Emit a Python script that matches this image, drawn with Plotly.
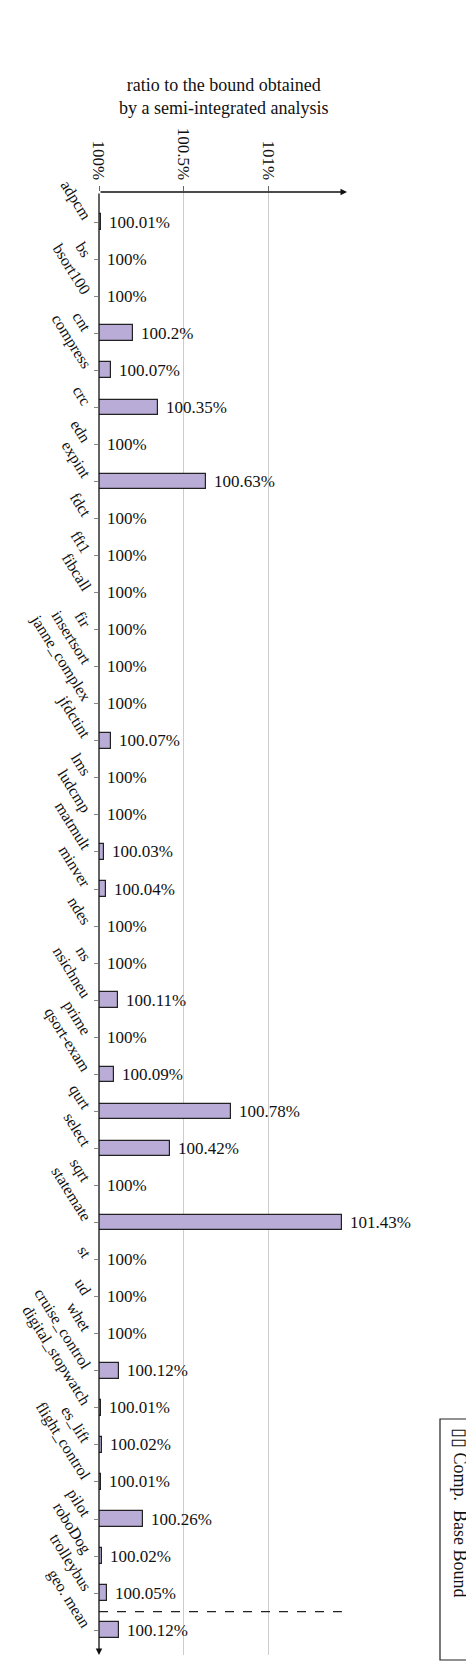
import plotly.graph_objects as go

benchmarks = ["adpcm", "bs", "bsort100", "cnt", "compress", "crc", "edn", "expint", "fdct", "fft1",
              "fibcall", "fir", "insertsort", "janne_complex", "jfdctint", "lms", "ludcmp", "matmult",
              "minver", "ndes", "ns", "nsichneu", "prime", "qsort-exam", "qurt", "select", "sqrt",
              "statemate", "st", "ud", "whet", "cruise_control", "digital_stopwatch", "es_lift",
              "flight_control", "pilot", "roboDog", "trolleybus", "geo. mean"]
ratio = [100.01, 100, 100, 100.2, 100.07, 100.35, 100, 100.63, 100, 100,
         100, 100, 100, 100, 100.07, 100, 100, 100.03,
         100.04, 100, 100, 100.11, 100, 100.09, 100.78, 100.42, 100,
         101.43, 100, 100, 100, 100.12, 100.01, 100.02,
         100.01, 100.26, 100.02, 100.05, 100.12]
tick_vals = [100, 100.5, 101]
tick_text = ["100%", "100.5%", "101%"]

FONT = "Liberation Serif"
pos = list(range(len(benchmarks)))

fig = go.Figure()
fig.add_trace(go.Bar(
    x=[v - 100 for v in ratio], base=100, y=pos, orientation="h", width=0.42,
    marker=dict(color="#b9acd6", line=dict(color="#222", width=1.2)),
    showlegend=False,
))

# value labels and slanted category labels
for i, (name, v) in enumerate(zip(benchmarks, ratio)):
    fig.add_annotation(x=v, y=i, xref="x", yref="y", text=f"{v:g}%", showarrow=False,
                       xanchor="left", xshift=6,
                       font=dict(family=FONT, size=17, color="#111"))
    fig.add_annotation(x=100, y=i, xref="x", yref="y", text=name, showarrow=False,
                       textangle=58, xanchor="right", yanchor="bottom", xshift=-2, yshift=-4,
                       font=dict(family=FONT, size=16, color="#111"))

# separator before geo. mean
fig.add_shape(type="line", x0=100, x1=101.43, y0=len(benchmarks) - 1.5, y1=len(benchmarks) - 1.5,
              xref="x", yref="y", line=dict(color="#222", width=1.2, dash="dash"))

# axis arrows
fig.add_annotation(x=101.46, y=-0.81, ax=100, ay=-0.81, xref="x", yref="y", axref="x", ayref="y",
                   text="", showarrow=True, arrowhead=2, arrowsize=1, arrowwidth=1.3, arrowcolor="#111")
fig.add_annotation(x=100, y=38.67, ax=100, ay=-0.81, xref="x", yref="y", axref="x", ayref="y",
                   text="", showarrow=True, arrowhead=2, arrowsize=1, arrowwidth=1.3, arrowcolor="#111")

# title
fig.add_annotation(xref="paper", yref="paper", x=(215 - 91) / 248, y=1 + (184 - 65) / 1463,
                   text="ratio to the bound obtained<br>by a semi-integrated analysis",
                   showarrow=False, font=dict(family=FONT, size=18, color="#111"))

# legend box (rotated)
fig.add_shape(type="rect", xref="paper", yref="paper",
              x0=(432 - 91) / 248, x1=(471 - 91) / 248,
              y0=(1647 - 1652) / 1463, y1=(1647 - 1411) / 1463,
              line=dict(color="#222", width=1.2))
fig.add_annotation(xref="paper", yref="paper", x=(452 - 91) / 248, y=(1647 - 1418) / 1463,
                   text="▯▯ Comp.  Base Bound", textangle=90, showarrow=False,
                   xanchor="center", yanchor="top",
                   font=dict(family=FONT, size=18, color="#111"))

fig.update_layout(
    width=474, height=1661, plot_bgcolor="white", paper_bgcolor="white",
    margin=dict(l=91, r=135, t=184, b=14),
    bargap=0,
    xaxis=dict(range=[100, 101.46], side="top", tickvals=tick_vals, ticktext=tick_text,
               tickangle=90, tickfont=dict(family=FONT, size=17, color="#111"),
               showgrid=True, gridcolor="#cccccc", gridwidth=1, zeroline=False,
               ticks="outside", ticklen=5, tickcolor="#666", showline=False),
    yaxis=dict(range=[38.67, -0.81], tickvals=pos, showticklabels=False, showgrid=False,
               zeroline=False, ticks="outside", ticklen=4, tickcolor="#888", showline=False),
)

fig.write_html("out.html")
